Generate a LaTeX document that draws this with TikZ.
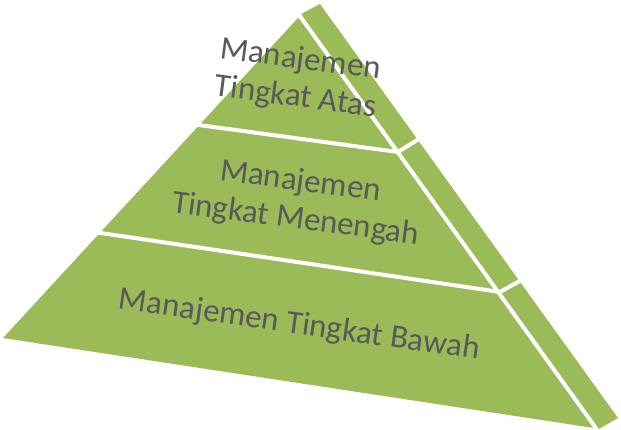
\documentclass[tikz,border=0pt]{standalone}
\usepackage{fontspec}
\setmainfont{Carlito}
\definecolor{pyrgreen}{HTML}{9BBB59}
\definecolor{pyrtext}{HTML}{595959}

\begin{document}
\begin{tikzpicture}[x=1pt,y=-1pt,
tier/.style={fill=pyrgreen},
cut/.style={draw=white,line width=4pt},
tiertext/.style={text=pyrtext,font=\fontsize{33}{38}\selectfont,align=center,inner sep=0pt}]

\useasboundingbox (0,0) rectangle (621,429);

% corners of the pyramid
\coordinate (apex) at (298,18);
\coordinate (bl) at (3,338);
\coordinate (br) at (594,428);
\coordinate (sidetop) at (320,4);
\coordinate (sidebot) at (618,418);

\fill[tier] (bl) -- (apex) -- (303,13) -- (sidetop) -- (sidebot) -- (599,429) -- (br) -- cycle;

% white gaps
\draw[cut] (297,12) -- (598,431);
\draw[cut] (195,124.5) -- (398,152);
\draw[cut] (94,232) -- (500,292);
\draw[cut] (398,152) -- (422,137);
\draw[cut] (500,292) -- (525,278);

\node[tiertext,rotate=-7.5] (top) at (298,79) {Manajemen\\Tingkat Atas};
\node[tiertext,rotate=-7.5] (middle) at (298,201) {Manajemen\\Tingkat Menengah};
\node[tiertext,rotate=-8,anchor=base] (bottom) at (298,334) {Manajemen Tingkat Bawah};
\end{tikzpicture}
\end{document}
